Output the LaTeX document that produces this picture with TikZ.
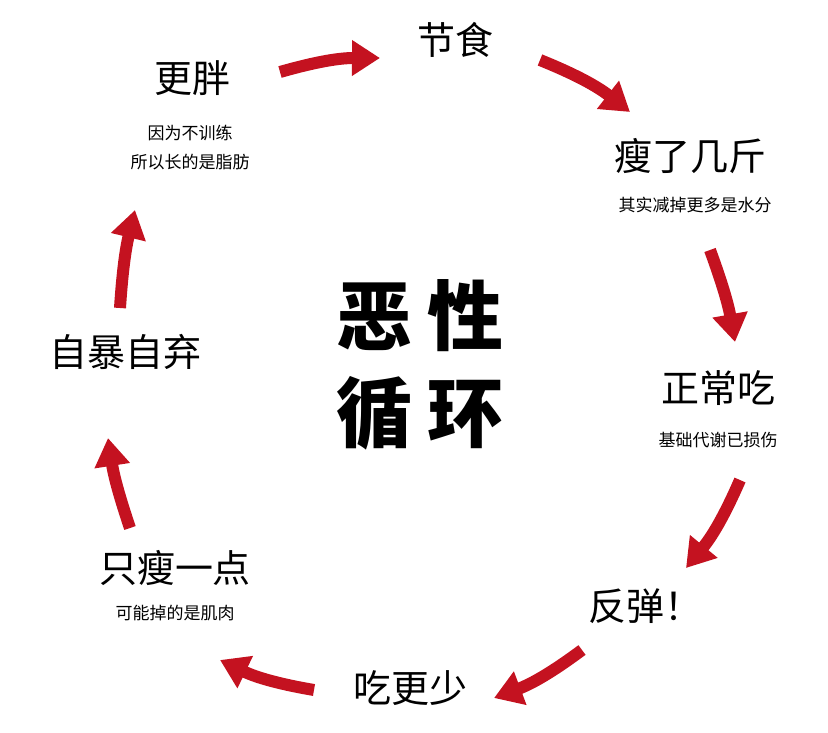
\documentclass[tikz,border=0pt]{standalone}
\usepackage{fontspec}
\setmainfont{Noto Sans CJK SC}
\usetikzlibrary{arrows.meta}
\definecolor{ar}{RGB}{196,18,32}
\tikzset{
 big/.style={font=\fontsize{38}{40}\selectfont},
 small/.style={font=\fontsize{17}{20}\selectfont},
 core/.style={font=\fontsize{76}{80}\selectfont\bfseries},
 arr/.style={ar,line width=12pt,-{Triangle[width=34pt,length=28pt]},line cap=butt}
}
\begin{document}
\begin{tikzpicture}[x=1pt,y=-1pt]
\useasboundingbox (0,0) rectangle (828,732);
\node[big] (a) at (192,78) {更胖};
\node[small] (a1) at (190,133) {因为不训练};
\node[small] (a2) at (190,162) {所以长的是脂肪};
\node[big] (b) at (455,40) {节食};
\node[big] (c) at (690,156) {瘦了几斤};
\node[small] (c1) at (695,205) {其实减掉更多是水分};
\node[big] (d) at (718,388) {正常吃};
\node[small] (d1) at (718,440) {基础代谢已损伤};
\node[big] (e) at (645,606) {反弹！};
\node[big] (f) at (410,688) {吃更少};
\node[big] (g) at (175,568) {只瘦一点};
\node[small] (g1) at (175,613) {可能掉的是肌肉};
\node[big] (h) at (125,352) {自暴自弃};
\node[core] (m1) at (420,316) {恶\hspace{0.2em}性};
\node[core] (m2) at (420,413) {循\hspace{0.2em}环};
\coordinate (p1) at (280,72); \coordinate (q1) at (380,58);
\coordinate (p2) at (540,60); \coordinate (q2) at (630,112);
\coordinate (p3) at (710,250); \coordinate (q3) at (735,342);
\coordinate (p4) at (740,480); \coordinate (q4) at (686,568);
\coordinate (p5) at (582,650); \coordinate (q5) at (494,698);
\coordinate (p6) at (314,690); \coordinate (q6) at (220,660);
\coordinate (p7) at (130,528); \coordinate (q7) at (108,438);
\coordinate (p8) at (120,308); \coordinate (q8) at (135,210);
\draw[arr] (p1) to[bend left=8] (q1);
\draw[arr] (p2) to[bend left=8] (q2);
\draw[arr] (p3) to[bend left=5] (q3);
\draw[arr] (p4) to[bend left=8] (q4);
\draw[arr] (p5) to[bend left=8] (q5);
\draw[arr] (p6) to[bend left=8] (q6);
\draw[arr] (p7) to[bend left=5] (q7);
\draw[arr] (p8) to[bend left=5] (q8);
\end{tikzpicture}
\end{document}
